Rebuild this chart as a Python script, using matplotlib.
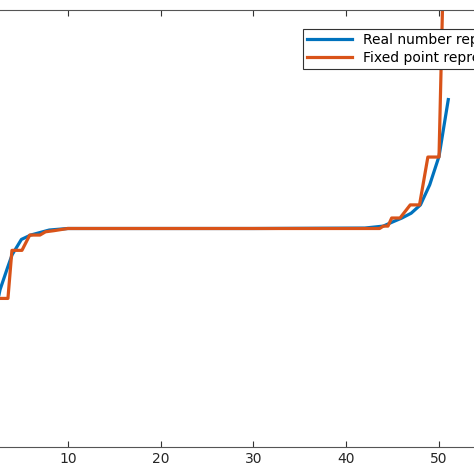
import matplotlib
matplotlib.use("Agg")
import matplotlib.pyplot as plt

real_x = [1.0, 2.0, 2.7, 3.5, 4.0, 5.0, 6.0, 8.0, 10.0, 20, 30, 42, 44, 45, 46, 47, 48, 49, 50, 51]
real_y = [-0.62, -0.42, -0.28, -0.18, -0.12, -0.05, -0.03, -0.007, 0.0, 0, 0, 0.002, 0.011, 0.03, 0.048, 0.07, 0.108, 0.2, 0.33, 0.59]
fix_x = [1.0, 2.0, 3.55, 3.98, 5.06, 5.9, 7.0, 7.6, 8.5, 10, 43.0, 43.6, 44.0, 44.5, 44.9, 45.8, 46.9, 47.9, 48.8, 50.0, 50.4, 51.0]
fix_y = [-0.32, -0.32, -0.32, -0.10, -0.10, -0.03, -0.03, -0.015, -0.01, 0, 0, 0.0, 0.011, 0.011, 0.048, 0.048, 0.108, 0.108, 0.327, 0.327, 1.05, 1.4]
xticks = [10, 20, 30, 40, 50]

W = 474
fig = plt.figure(figsize=(4.74, 4.74), dpi=100)
left = -25 / W
width = 55 * 9.28 / W
bottom = (W - 447) / W
height = (447 - 10) / W
ax = fig.add_axes([left, bottom, width, height])
ax.plot(real_x, real_y, color='#0072BD', lw=2.3, label='Real number representation')
ax.plot(fix_x, fix_y, color='#D95319', lw=2.3, label='Fixed point representation')
ax.set_xlim(0, 55)
ax.set_ylim(-1, 1)
ax.set_xticks(xticks)
ax.set_yticks([])
ax.tick_params(direction='in', top=True, length=4, color='#333333', labelsize=10, labelcolor='#262626')
for s in ax.spines.values():
    s.set_color('#555555')
    s.set_linewidth(0.8)
leg = ax.legend(loc='upper left', bbox_to_anchor=(296 / W, 1 - 22 / W), bbox_transform=fig.transFigure,
                fancybox=False, edgecolor='#333333', fontsize=10, handlelength=3.2,
                borderpad=0.3, labelspacing=0.3, framealpha=1)
leg.get_frame().set_linewidth(0.8)
fig.savefig('out.png', dpi=100)
